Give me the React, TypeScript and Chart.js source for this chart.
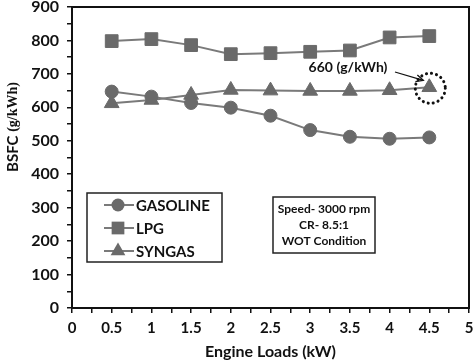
import React, { useEffect, useRef } from "react";
import { Chart, registerables } from "chart.js";

Chart.register(...registerables);

// Engine load (kW) for each measurement
const loads = [0.5, 1, 1.5, 2, 2.5, 3, 3.5, 4, 4.5];
// Brake specific fuel consumption, g/kWh
const gasoline = [647, 632, 613, 599, 575, 532, 512, 506, 510];
const lpg = [798, 804, 786, 759, 762, 766, 770, 809, 813];
const syngas = [612, 622, 637, 652, 650, 649, 649, 651, 660];

const seriesNames = ["GASOLINE", "LPG", "SYNGAS"];
const conditionLines = ["Speed- 3000 rpm", "CR- 8.5:1", "WOT Condition"];
const calloutText = "660 (g/kWh)";
const xTitle = "Engine Loads (kW)";

const LINE = "#7a7a7a";
const MARK = "#6a6a6a";
const FONT = "Lato, 'Open Sans', sans-serif";

function drawMarker(ctx: CanvasRenderingContext2D, style: string, x: number, y: number, r: number) {
  ctx.beginPath();
  if (style === "circle") {
    ctx.arc(x, y, r, 0, Math.PI * 2);
  } else if (style === "rect") {
    const s = r * Math.SQRT1_2;
    ctx.rect(x - s, y - s, 2 * s, 2 * s);
  } else {
    ctx.moveTo(x, y - r);
    ctx.lineTo(x + r * 0.866, y + r * 0.5);
    ctx.lineTo(x - r * 0.866, y + r * 0.5);
    ctx.closePath();
  }
  ctx.fill();
}

const overlay = {
  id: "overlay",
  afterDraw(chart: any) {
    const { ctx, chartArea: a, scales } = chart;
    const xs = scales.x;
    const ys = scales.y;
    ctx.save();

    // plot frame
    ctx.strokeStyle = "#111";
    ctx.lineWidth = 2;
    ctx.strokeRect(a.left, a.top, a.right - a.left, a.bottom - a.top);

    // axis titles
    ctx.fillStyle = "#111";
    ctx.font = `bold 16px ${FONT}`;
    ctx.textAlign = "center";
    ctx.textBaseline = "middle";
    ctx.fillText(xTitle, (a.left + a.right) / 2, 352);

    ctx.save();
    ctx.translate(13, 127);
    ctx.rotate(-Math.PI / 2);
    ctx.textAlign = "left";
    const p1 = "BSFC ";
    const p2 = "(g/kWh)";
    ctx.font = `bold 15px ${FONT}`;
    const w1 = ctx.measureText(p1).width;
    ctx.font = `bold 14px 'Liberation Serif', serif`;
    const w2 = ctx.measureText(p2).width;
    const start = -(w1 + w2) / 2;
    ctx.font = `bold 15px ${FONT}`;
    ctx.fillText(p1, start, 0);
    ctx.font = `bold 14px 'Liberation Serif', serif`;
    ctx.fillText(p2, start + w1, 0);
    ctx.restore();

    // legend box
    ctx.lineWidth = 1.5;
    ctx.strokeStyle = "#222";
    ctx.strokeRect(87, 193, 135, 69);
    const rows = [205, 228, 251];
    const styles = ["circle", "rect", "triangle"];
    rows.forEach((y, i) => {
      ctx.strokeStyle = LINE;
      ctx.lineWidth = 2;
      ctx.beginPath();
      ctx.moveTo(104, y);
      ctx.lineTo(134, y);
      ctx.stroke();
      ctx.fillStyle = MARK;
      const r = styles[i] === "circle" ? 6.5 : styles[i] === "rect" ? 9 : 8.5;
      drawMarker(ctx, styles[i], 118, y, r);
      ctx.fillStyle = "#111";
      ctx.font = `bold 15px ${FONT}`;
      ctx.textAlign = "left";
      ctx.textBaseline = "middle";
      ctx.fillText(seriesNames[i], 136, y + 1);
    });

    // operating condition box
    ctx.strokeStyle = "#222";
    ctx.lineWidth = 1.5;
    ctx.strokeRect(273, 197, 102, 56);
    ctx.fillStyle = "#111";
    ctx.font = `bold 12px ${FONT}`;
    ctx.textAlign = "center";
    ctx.textBaseline = "middle";
    [209, 225, 241].forEach((y, i) => ctx.fillText(conditionLines[i], 324, y));

    // callout on the last syngas point
    const cx = xs.getPixelForValue(loads[loads.length - 1]);
    const cy = ys.getPixelForValue(syngas[syngas.length - 1]);
    ctx.strokeStyle = "#111";
    ctx.lineWidth = 3;
    ctx.lineCap = "round";
    ctx.setLineDash([0.1, 5]);
    ctx.beginPath();
    ctx.arc(cx + 1, cy + 1, 15, 0, Math.PI * 2);
    ctx.stroke();
    ctx.setLineDash([]);

    ctx.font = `bold 14px ${FONT}`;
    ctx.fillText(calloutText, 348, 67);

    const ax0 = 395, ay0 = 72, ax1 = cx - 6, ay1 = cy - 7;
    ctx.lineWidth = 1.3;
    ctx.lineCap = "butt";
    ctx.beginPath();
    ctx.moveTo(ax0, ay0);
    ctx.lineTo(ax1, ay1);
    ctx.stroke();
    const ang = Math.atan2(ay1 - ay0, ax1 - ax0);
    ctx.beginPath();
    ctx.moveTo(ax1 - 8 * Math.cos(ang - 0.45), ay1 - 8 * Math.sin(ang - 0.45));
    ctx.lineTo(ax1, ay1);
    ctx.lineTo(ax1 - 8 * Math.cos(ang + 0.45), ay1 - 8 * Math.sin(ang + 0.45));
    ctx.stroke();

    ctx.restore();
  },
};

export default function App() {
  const ref = useRef<HTMLCanvasElement | null>(null);

  useEffect(() => {
    if (!ref.current) return;
    const mk = (label: string, data: number[], style: string, r: number) => ({
      label,
      data: loads.map((x, i) => ({ x, y: data[i] })),
      borderColor: LINE,
      backgroundColor: MARK,
      borderWidth: 2,
      pointStyle: style,
      pointRadius: r,
      pointBackgroundColor: MARK,
      pointBorderColor: MARK,
      pointBorderWidth: 1,
      showLine: true,
      tension: 0,
    });

    const chart = new Chart(ref.current, {
      type: "scatter",
      data: {
        datasets: [
          mk(seriesNames[0], gasoline, "circle", 6.5),
          mk(seriesNames[1], lpg, "rect", 9),
          mk(seriesNames[2], syngas, "triangle", 8.5),
        ],
      },
      options: {
        responsive: false,
        animation: false,
        devicePixelRatio: 1,
        layout: { autoPadding: false, padding: { left: 0, top: 7, right: 5, bottom: 0 } },
        plugins: {
          legend: { display: false },
          tooltip: { enabled: false },
        },
        scales: {
          x: {
            type: "linear",
            min: 0,
            max: 5,
            afterFit: (s: any) => {
              s.height = 54;
              s.paddingLeft = 0;
              s.paddingRight = 0;
            },
            grid: {
              drawOnChartArea: false,
              drawTicks: true,
              tickLength: 5,
              color: "#111",
              lineWidth: 1.5,
            },
            border: { color: "#111", width: 2 },
            ticks: {
              stepSize: 0.25,
              autoSkip: false,
              maxRotation: 0,
              padding: 6,
              color: "#111",
              font: { family: FONT, size: 15, weight: "bold" },
              callback: (v: any) => {
                const n = Number(v);
                return Math.abs(n * 2 - Math.round(n * 2)) < 1e-6 ? String(n) : "";
              },
            },
          },
          y: {
            min: 0,
            max: 900,
            afterFit: (s: any) => {
              s.width = 72;
              s.paddingTop = 0;
              s.paddingBottom = 0;
            },
            grid: {
              drawOnChartArea: false,
              drawTicks: true,
              tickLength: 5,
              color: "#111",
              lineWidth: 1.5,
            },
            border: { color: "#111", width: 2 },
            ticks: {
              stepSize: 50,
              autoSkip: false,
              padding: 8,
              color: "#111",
              font: { family: FONT, size: 16, weight: "bold" },
              callback: (v: any) => (Number(v) % 100 === 0 ? String(v) : ""),
            },
          },
        },
      },
      plugins: [overlay],
    } as any);

    return () => chart.destroy();
  }, []);

  return (
    <div style={{ position: "fixed", left: 0, top: 0, width: 474, height: 362, background: "#fff" }}>
      <canvas ref={ref} width={474} height={362} />
    </div>
  );
}
